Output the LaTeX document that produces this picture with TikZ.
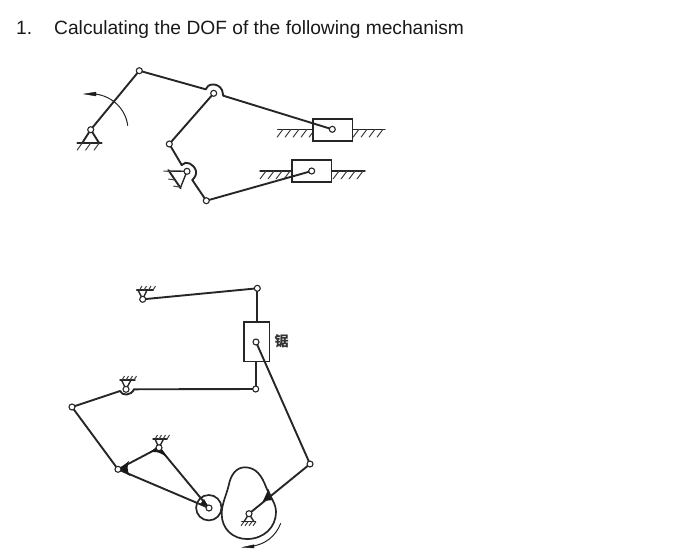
\documentclass[tikz,border=0pt]{standalone}
\usepackage{fontspec}
\setmainfont{Liberation Sans}
\newfontfamily\cjkfont{Noto Sans CJK SC}
\usetikzlibrary{arrows.meta}
\tikzset{
  bar/.style={line width=1.9pt,black!85,line cap=round,line join=round},
  thin bar/.style={line width=1.4pt,black!85,line cap=round,line join=round},
  hatch/.style={line width=1pt,black!75},
  pinj/.style={circle,draw=black!85,fill=white,line width=1.1pt,inner sep=0pt,minimum size=6pt},
  slider/.style={draw=black!85,fill=white,line width=1.6pt,inner sep=0pt,minimum width=#1},
  title/.style={inner sep=0pt,anchor=base west,font=\fontsize{19.2pt}{22pt}\selectfont,text=black!90},
  gusset/.style={fill=black!90,draw=none}
}
\begin{document}
\begin{tikzpicture}[x=1pt,y=-1pt]
\useasboundingbox (0,0) rectangle (676,555);
\node[title] (num) at (16,34.5) {1.};
\node[title] (ttl) at (54,34.5) {Calculating the DOF of the following mechanism};

% ---------- upper mechanism
\coordinate (A) at (90.7,129.7);
\coordinate (B) at (139.3,70.7);
\coordinate (C) at (213.7,93.3);
\coordinate (D) at (169.3,144);
\coordinate (E) at (187,171.3);
\coordinate (F) at (206.3,200.7);
\coordinate (P1) at (332.3,129.3);
\coordinate (P2) at (311.7,171);
\coordinate (Cl) at (205.7,89.3);
\coordinate (Cr) at (223.3,95.7);
\coordinate (Eu) at (181.7,165);
\coordinate (Ed) at (192.3,180);

% ground lines of sliders
\draw[thin bar] (277.7,129.3) -- (385,129.3);
\draw[thin bar] (260,171) -- (365,171);
\foreach \x in {280,288,296,304,312,356,364,372,380}
  \draw[hatch] (\x,129.3) ++(3,0) -- ++(-6,8);
\foreach \x in {263,271,279,287,295,336,344,352,360}
  \draw[hatch] (\x,171) ++(3,0) -- ++(-6,8);

\node[slider=39.6pt,minimum height=22pt] (S1) at (332.5,129.7) {};
\node[slider=39.7pt,minimum height=22pt] (S2) at (311.8,171) {};

% ground triangle at A
\draw[bar] (77.3,143.3) -- (101.7,143.3);
\draw[bar] (A) -- (82,143.3) (A) -- (99.3,143.3);
\foreach \x in {82,90.5,99} \draw[hatch] (\x,143.3) -- ++(-5,7);
% ground triangle at E
\draw[bar] (168.3,170) -- (180.7,188.3);
\draw[thin bar] (E) -- (170,171) (E) -- (180.7,187);
\draw[hatch] (163.3,171) -- (173.3,171.7);
\draw[hatch] (168.3,179) -- (175,180);
\draw[hatch] (173.3,186) -- (180.7,187.3);

% arrow arc
\draw[line width=1pt,black!85] (127.7,125.7) .. controls (126,110) and (113,96) .. (95,94);
\draw[black!90,fill=black!90] (84,94) -- (96,92) -- (96,96) -- cycle;

% links
\draw[bar] (A) -- (B);
\draw[bar] (B) -- (Cl);
\draw[bar] (Cl) .. controls (207,83.5) and (218,82) .. (222,90) -- (Cr);
\draw[bar] (Cr) -- (P1);
\draw[bar] (C) -- (D);
\draw[bar] (D) -- (Eu);
\draw[bar] (Eu) .. controls (186,160) and (194,164) .. (196,171) .. controls (196.5,175) and (195,177) .. (Ed);
\draw[bar] (Ed) -- (F);
\draw[bar] (F) -- (P2);

\foreach \n in {A,B,C,D,E,F,P1,P2} \node[pinj] (n\n) at (\n) {};

% ---------- lower mechanism
\coordinate (G) at (142.7,299.3);
\coordinate (H) at (257.3,288.3);
\coordinate (J) at (255.7,389);
\coordinate (K) at (126,389.3);
\coordinate (L) at (72,407);
\coordinate (M) at (118,469.3);
\coordinate (N) at (159,447.7);
\coordinate (O) at (209,508);
\coordinate (Q) at (249,513.7);
\coordinate (R) at (310,464);
\coordinate (P3) at (256,342);
\coordinate (Kl) at (120,391);
\coordinate (Kr) at (134,389.3);

\node[slider=25.7pt,minimum height=39.3pt] (S3) at (256.8,341.7) {};
\draw[bar] (H) -- (S3.north -| H);
\draw[bar] (J) -- (S3.south -| J);
\draw[bar] (G) -- (H);
\draw[bar] (Kr) -- (J);
\draw[bar] (L) -- (Kl);
\draw[bar] (Kl) .. controls (122,396) and (131,396) .. (Kr);
\draw[bar] (L) -- (M);
\draw[bar] (M) -- (N);
\draw[bar] (N) -- (O);
\draw[bar] (M) -- (O);
\draw[bar] (P3) -- (R);
\draw[bar] (R) -- (Q);

% gussets
\draw[gusset] (119,469) -- (129,461) .. controls (127,465) and (127,471) .. (130,476) -- cycle;
\draw[gusset] (149,453) .. controls (153,451) and (159,451) .. (168,458) -- (159,445) -- cycle;
\draw[gusset] (268.5,489) -- (263,501) -- (273,500) -- cycle;
\draw[gusset] (204,499) -- (208,506) -- (200,504.5) -- cycle;

% wheel and cam
\draw[line width=1.7pt,black!85] (208.8,507.7) circle (12.7pt);
\draw[line width=1.7pt,black!85] (245,467.3) .. controls (236,467.3) and (231,475) .. (229,484)
  .. controls (227,494) and (221.7,503) .. (221.7,514)
  .. controls (221.7,529) and (233,539) .. (247,539)
  .. controls (264,539) and (276,527) .. (276,512)
  .. controls (276,503) and (270,497) .. (266,487)
  .. controls (262,476) and (256,467.3) .. (245,467.3) -- cycle;
% cam arrow
\draw[line width=1pt,black!85] (280.7,523.3) .. controls (276,536) and (265,545) .. (250,546.5);
\draw[black!90,fill=black!90] (242.7,547.3) -- (254,544.7) -- (254,548) -- cycle;

% grounds
\draw[thin bar] (136.7,290) -- (153.3,290);
\foreach \x in {139.5,144,148.5,153} \draw[hatch] (\x,290) -- ++(2.5,-4);
\draw[thin bar] (138,290) -- (G) -- (147,290);

\draw[thin bar] (120,380) -- (135,380);
\foreach \x in {122,126,130,134} \draw[hatch] (\x,380) -- ++(2.5,-4);
\draw[thin bar] (121.5,380) -- (K) -- (131,380);

\draw[thin bar] (153,439) -- (167,439);
\foreach \x in {155,159,163,167} \draw[hatch] (\x,439) -- ++(2.5,-4);
\draw[thin bar] (155,439) -- (N) -- (163.5,439);

\draw[thin bar] (241.7,521.7) -- (255.5,521.7);
\foreach \x in {244,248,252,256} \draw[hatch] (\x,521.7) -- ++(-3,4);
\draw[thin bar] (244,521.7) -- (Q) -- (254,521.7);

\foreach \n in {G,H,J,K,L,M,N,O,Q,R,P3} \node[pinj] (n\n) at (\n) {};

\node[inner sep=0pt,font=\cjkfont\bfseries\fontsize{14pt}{14pt}\selectfont,text=black!80] (saw) at (281.5,341) {锯};
\end{tikzpicture}
\end{document}
